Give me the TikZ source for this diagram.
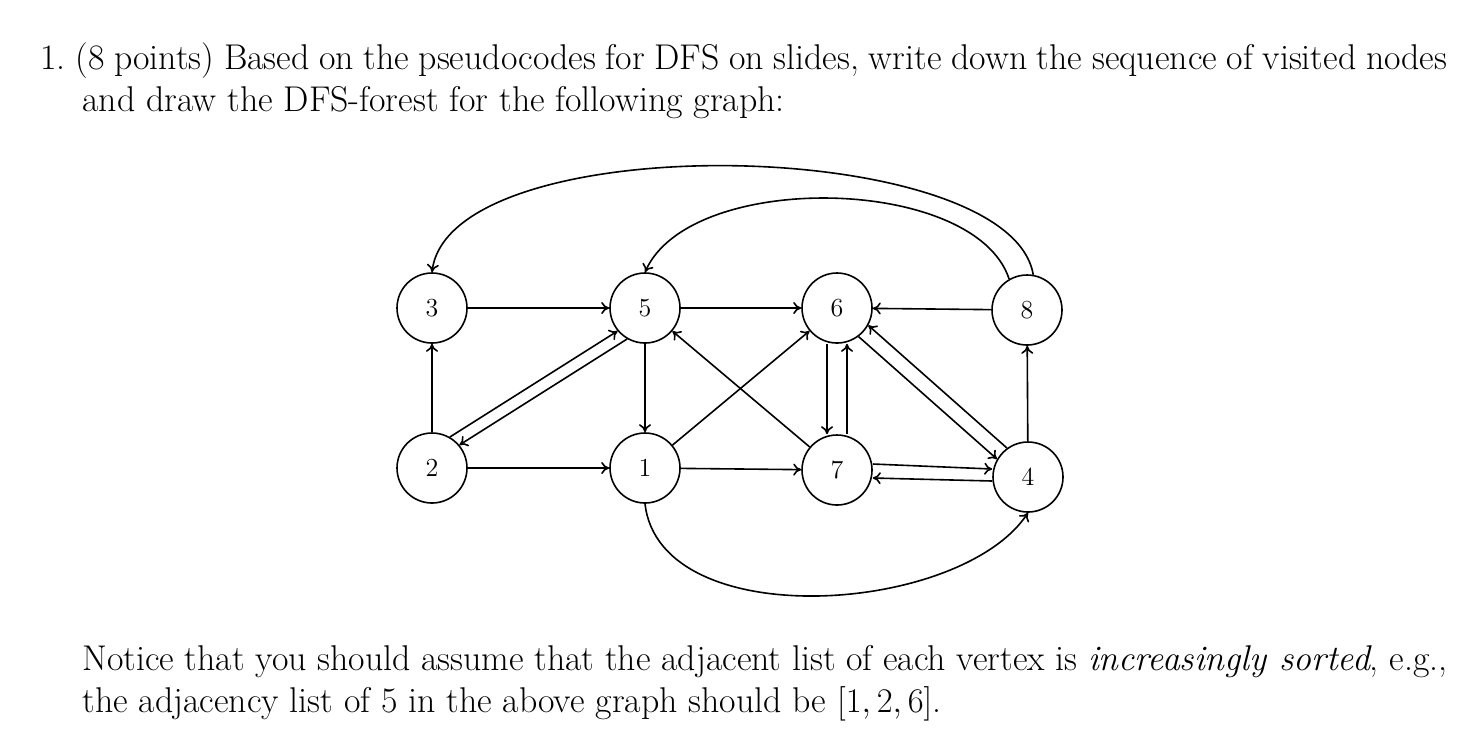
\documentclass[tikz,border=0pt]{standalone}
\usetikzlibrary{arrows.meta}
\begin{document}
\begin{tikzpicture}[x=0.5pt,y=-0.5pt,
  vx/.style={draw,circle,line width=0.8pt,minimum size=35pt,inner sep=0pt,font=\fontsize{13}{15}\selectfont},
  ed/.style={line width=0.8pt,-{To[length=4pt,width=6pt]}},
  txt/.style={anchor=north west,inner sep=0pt,align=justify,font=\fontsize{17.9}{21}\selectfont}]
\useasboundingbox (0,0) rectangle (1475,741);
\node[txt,text width=703.5pt] (p1) at (40,42) {\hangindent=21pt\hangafter=1 1.\ (8 points) Based on the pseudocodes for DFS on slides, write down the sequence of visited nodes and draw the DFS-forest for the following graph:\par};
\node[txt,text width=682.5pt] (p2) at (82,645) {Notice that you should assume that the adjacent list of each vertex is \emph{increasingly sorted}, e.g., the adjacency list of 5 in the above graph should be $[1,2,6]$.\par};
\node[vx] (n3) at (432,308) {3};
\node[vx] (n5) at (645,308) {5};
\node[vx] (n6) at (837,308) {6};
\node[vx] (n8) at (1027,310) {8};
\node[vx] (n2) at (432,468) {2};
\node[vx] (n1) at (645,468) {1};
\node[vx] (n7) at (837,470) {7};
\node[vx] (n4) at (1028,477) {4};
\draw[ed] (n3) -- (n5);
\draw[ed] (n5) -- (n6);
\draw[ed] (n8) -- (n6);
\draw[ed] (n2) -- (n3);
\draw[ed] (n2) -- (n1);
\draw[ed] (n1) -- (n7);
\draw[ed] (n5) -- (n1);
\draw[ed] (n7) -- (n5);
\draw[ed] (n1) -- (n6);
\draw[ed] (n4) -- (n8);
\draw[ed] ([yshift=3pt]n7.east) -- ([yshift=4pt]n4.west);
\draw[ed] ([yshift=-2pt]n4.west) -- ([yshift=-4pt]n7.east);
\draw[ed] ([xshift=-5pt]n6.south) -- ([xshift=-5pt]n7.north);
\draw[ed] ([xshift=5pt]n7.north) -- ([xshift=5pt]n6.south);
\draw[ed] (n2.60) -- (n5.220);
\draw[ed] (n5.240) -- (n2.40);
\draw[ed] (n6.-53.5) -- (n4.150.5);
\draw[ed] (n4.126.5) -- (n6.-29.5);
\draw[ed] (n8.80) .. controls (1010,135) and (450,125) .. (n3.north);
\draw[ed] (n8.120) .. controls (975,175) and (690,170) .. (n5.north);
\draw[ed] (n1.south) .. controls (660,635) and (960,615) .. (n4.south);
\end{tikzpicture}
\end{document}
